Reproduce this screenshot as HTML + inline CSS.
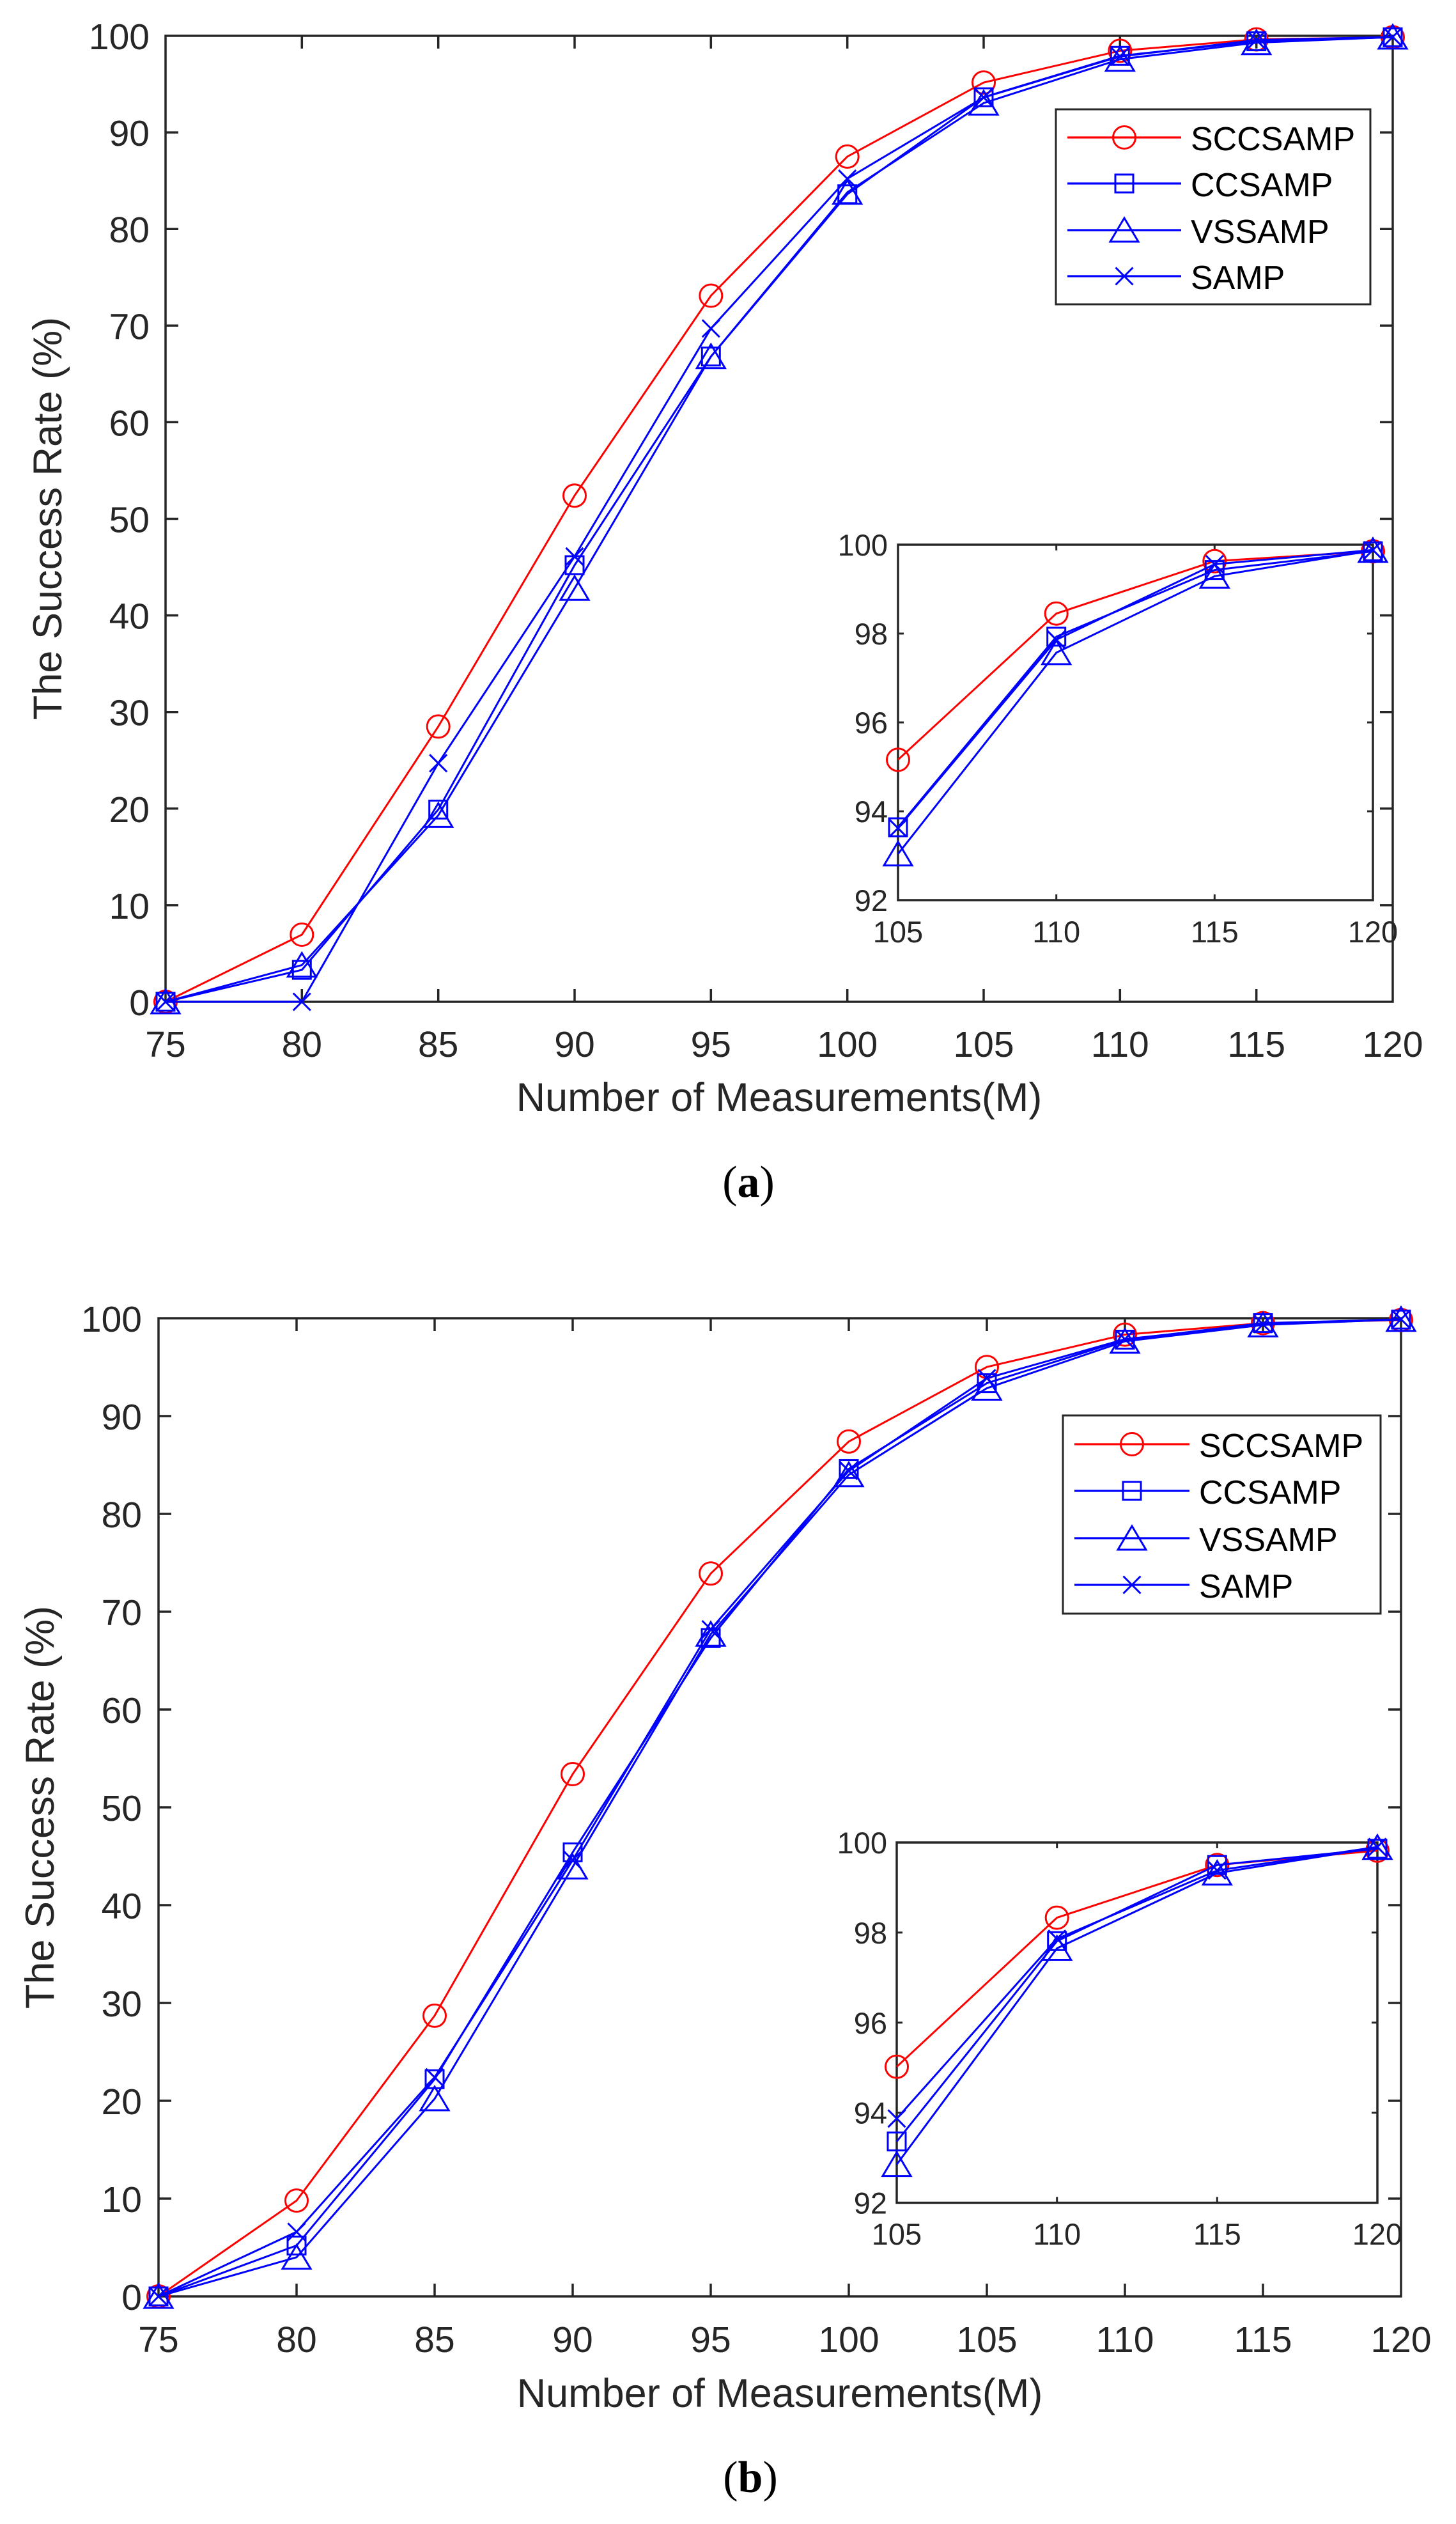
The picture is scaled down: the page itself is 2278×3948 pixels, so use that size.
<!DOCTYPE html>
<html>
<head>
<meta charset="utf-8">
<style>
html,body{margin:0;padding:0;background:#fff;}
svg{display:block;}
text{font-family:"Liberation Sans",Arial,sans-serif;fill:#262626;}
.tk{font-size:57px;}
.in{font-size:47px;}
.lab{font-size:63px;}
.lg{font-size:52px;fill:#000;}
.cap{font-family:"Liberation Serif","Times New Roman",serif;font-size:70px;fill:#000;}
</style>
</head>
<body>
<svg width="2278" height="3948" viewBox="0 0 2278 3948" xmlns="http://www.w3.org/2000/svg">
<defs>
<marker id="mo" markerUnits="userSpaceOnUse" markerWidth="50" markerHeight="50" refX="25" refY="25" overflow="visible"><circle cx="25" cy="25" r="17.5" fill="none" stroke="#f00" stroke-width="3"/></marker>
<marker id="ms" markerUnits="userSpaceOnUse" markerWidth="50" markerHeight="50" refX="25" refY="25" overflow="visible"><rect x="11" y="11" width="28" height="28" fill="none" stroke="#00f" stroke-width="3"/></marker>
<marker id="mt" markerUnits="userSpaceOnUse" markerWidth="50" markerHeight="50" refX="25" refY="25" overflow="visible"><polygon points="25,6 47,43 3,43" fill="none" stroke="#00f" stroke-width="3"/></marker>
<marker id="mx" markerUnits="userSpaceOnUse" markerWidth="50" markerHeight="50" refX="25" refY="25" overflow="visible"><path d="M11.5 11.5 L38.5 38.5 M38.5 11.5 L11.5 38.5" fill="none" stroke="#00f" stroke-width="3"/></marker>
</defs>
<rect x="0" y="0" width="2278" height="3948" fill="#fff"/>

<!-- ================= PLOT (a) ================= -->
<g fill="none" stroke="#262626" stroke-width="3.5">
<rect x="259" y="56" width="1920" height="1511"/>
<path d="M472.3 1567v-20M685.7 1567v-20M899 1567v-20M1112.3 1567v-20M1325.7 1567v-20M1539 1567v-20M1752.3 1567v-20M1965.7 1567v-20
M472.3 56v20M685.7 56v20M899 56v20M1112.3 56v20M1325.7 56v20M1539 56v20M1752.3 56v20M1965.7 56v20
M259 1415.9h20M259 1264.8h20M259 1113.7h20M259 962.6h20M259 811.5h20M259 660.4h20M259 509.3h20M259 358.2h20M259 207.1h20
M2179 1415.9h-20M2179 1264.8h-20M2179 1113.7h-20M2179 962.6h-20M2179 811.5h-20M2179 660.4h-20M2179 509.3h-20M2179 358.2h-20M2179 207.1h-20"/>
</g>
<g class="tk" text-anchor="end">
<text x="234" y="1588" class="tk">0</text>
<text x="234" y="1436.9" class="tk">10</text>
<text x="234" y="1285.8" class="tk">20</text>
<text x="234" y="1134.7" class="tk">30</text>
<text x="234" y="983.6" class="tk">40</text>
<text x="234" y="832.5" class="tk">50</text>
<text x="234" y="681.4" class="tk">60</text>
<text x="234" y="530.3" class="tk">70</text>
<text x="234" y="379.2" class="tk">80</text>
<text x="234" y="228.1" class="tk">90</text>
<text x="234" y="77" class="tk">100</text>
</g>
<g text-anchor="middle">
<text x="259" y="1653" class="tk">75</text>
<text x="472.3" y="1653" class="tk">80</text>
<text x="685.7" y="1653" class="tk">85</text>
<text x="899" y="1653" class="tk">90</text>
<text x="1112.3" y="1653" class="tk">95</text>
<text x="1325.7" y="1653" class="tk">100</text>
<text x="1539" y="1653" class="tk">105</text>
<text x="1752.3" y="1653" class="tk">110</text>
<text x="1965.7" y="1653" class="tk">115</text>
<text x="2179" y="1653" class="tk">120</text>
</g>
<text x="1219" y="1738" text-anchor="middle" class="lab">Number of Measurements(M)</text>
<text transform="translate(96,811) rotate(-90)" text-anchor="middle" class="lab">The Success Rate (%)</text>

<g fill="none" stroke-width="3" stroke-linejoin="round">
<polyline stroke="#f00" marker-start="url(#mo)" marker-mid="url(#mo)" marker-end="url(#mo)" points="259,1567 472.3,1462.0 685.7,1136.4 899,775.2 1112.3,462.5 1325.7,244.9 1539,129.1 1752.3,79.4 1965.7,61.6 2179,58.3"/>
<polyline stroke="#00f" marker-start="url(#ms)" marker-mid="url(#ms)" marker-end="url(#ms)" points="259,1567 472.3,1517.1 685.7,1266.3 899,884.0 1112.3,557.7 1325.7,303.8 1539,152.1 1752.3,87.3 1965.7,64.6 2179,58.3"/>
<polyline stroke="#00f" marker-start="url(#mt)" marker-mid="url(#mt)" marker-end="url(#mt)" points="259,1567 472.3,1509.6 685.7,1275.4 899,920.3 1112.3,557.7 1325.7,300.8 1539,161.2 1752.3,92.7 1965.7,66.7 2179,58.0"/>
<polyline stroke="#00f" marker-start="url(#mx)" marker-mid="url(#mx)" marker-end="url(#mx)" points="259,1567 472.3,1567 685.7,1193.8 899,870.4 1112.3,513.8 1325.7,279.6 1539,152.4 1752.3,88.3 1965.7,62.6 2179,57.8"/>
</g>

<!-- inset (a) -->
<rect x="1405" y="852" width="743" height="556" fill="#fff" stroke="#262626" stroke-width="3.5"/>
<path fill="none" stroke="#262626" stroke-width="3" d="M1652.7 1408v-9M1900.3 1408v-9M1652.7 852v9M1900.3 852v9M1405 1269h9M1405 1130h9M1405 991h9M2148 1269h-9M2148 1130h-9M2148 991h-9"/>
<g text-anchor="end">
<text x="1389" y="1425" class="in">92</text>
<text x="1389" y="1286" class="in">94</text>
<text x="1389" y="1147" class="in">96</text>
<text x="1389" y="1008" class="in">98</text>
<text x="1389" y="869" class="in">100</text>
</g>
<g text-anchor="middle">
<text x="1405" y="1474" class="in">105</text>
<text x="1652.7" y="1474" class="in">110</text>
<text x="1900.3" y="1474" class="in">115</text>
<text x="2148" y="1474" class="in">120</text>
</g>
<g fill="none" stroke-width="3" stroke-linejoin="round">
<polyline stroke="#f00" marker-start="url(#mo)" marker-mid="url(#mo)" marker-end="url(#mo)" points="1405,1188.4 1652.7,959.7 1900.3,877.7 2148,862.4"/>
<polyline stroke="#00f" marker-start="url(#ms)" marker-mid="url(#ms)" marker-end="url(#ms)" points="1405,1294.0 1652.7,995.9 1900.3,891.6 2148,862.4"/>
<polyline stroke="#00f" marker-start="url(#mt)" marker-mid="url(#mt)" marker-end="url(#mt)" points="1405,1335.7 1652.7,1020.9 1900.3,901.3 2148,861.0"/>
<polyline stroke="#00f" marker-start="url(#mx)" marker-mid="url(#mx)" marker-end="url(#mx)" points="1405,1295.4 1652.7,1000.7 1900.3,882.6 2148,860.3"/>
</g>

<!-- legend (a) -->
<rect x="1652" y="171" width="492" height="305" fill="#fff" stroke="#262626" stroke-width="3"/>
<g fill="none" stroke-width="3.3">
<polyline stroke="#f00" marker-mid="url(#mo)" points="1670,215 1759,215 1848,215"/>
<polyline stroke="#00f" marker-mid="url(#ms)" points="1670,287 1759,287 1848,287"/>
<polyline stroke="#00f" marker-mid="url(#mt)" points="1670,360 1759,360 1848,360"/>
<polyline stroke="#00f" marker-mid="url(#mx)" points="1670,432 1759,432 1848,432"/>
</g>
<text x="1863" y="235" class="lg">SCCSAMP</text>
<text x="1863" y="307" class="lg">CCSAMP</text>
<text x="1863" y="380" class="lg">VSSAMP</text>
<text x="1863" y="452" class="lg">SAMP</text>

<text x="1171" y="1872" text-anchor="middle" class="cap">(<tspan font-weight="bold">a</tspan>)</text>

<!-- ================= PLOT (b) ================= -->
<g fill="none" stroke="#262626" stroke-width="3.5">
<rect x="248" y="2062" width="1944" height="1530"/>
<path d="M464 3592v-20M680 3592v-20M896 3592v-20M1112 3592v-20M1328 3592v-20M1544 3592v-20M1760 3592v-20M1976 3592v-20
M464 2062v20M680 2062v20M896 2062v20M1112 2062v20M1328 2062v20M1544 2062v20M1760 2062v20M1976 2062v20
M248 3439h20M248 3286h20M248 3133h20M248 2980h20M248 2827h20M248 2674h20M248 2521h20M248 2368h20M248 2215h20
M2192 3439h-20M2192 3286h-20M2192 3133h-20M2192 2980h-20M2192 2827h-20M2192 2674h-20M2192 2521h-20M2192 2368h-20M2192 2215h-20"/>
</g>
<g text-anchor="end">
<text x="222" y="3613" class="tk">0</text>
<text x="222" y="3460" class="tk">10</text>
<text x="222" y="3307" class="tk">20</text>
<text x="222" y="3154" class="tk">30</text>
<text x="222" y="3001" class="tk">40</text>
<text x="222" y="2848" class="tk">50</text>
<text x="222" y="2695" class="tk">60</text>
<text x="222" y="2542" class="tk">70</text>
<text x="222" y="2389" class="tk">80</text>
<text x="222" y="2236" class="tk">90</text>
<text x="222" y="2083" class="tk">100</text>
</g>
<g text-anchor="middle">
<text x="248" y="3679" class="tk">75</text>
<text x="464" y="3679" class="tk">80</text>
<text x="680" y="3679" class="tk">85</text>
<text x="896" y="3679" class="tk">90</text>
<text x="1112" y="3679" class="tk">95</text>
<text x="1328" y="3679" class="tk">100</text>
<text x="1544" y="3679" class="tk">105</text>
<text x="1760" y="3679" class="tk">110</text>
<text x="1976" y="3679" class="tk">115</text>
<text x="2192" y="3679" class="tk">120</text>
</g>
<text x="1220" y="3765" text-anchor="middle" class="lab">Number of Measurements(M)</text>
<text transform="translate(84,2827) rotate(-90)" text-anchor="middle" class="lab">The Success Rate (%)</text>

<g fill="none" stroke-width="3" stroke-linejoin="round">
<polyline stroke="#f00" marker-start="url(#mo)" marker-mid="url(#mo)" marker-end="url(#mo)" points="248,3592 464,3442.1 680,3152.9 896,2775.0 1112,2461.3 1328,2254.8 1544,2138.2 1760,2087.6 1976,2069.6 2192,2064.8"/>
<polyline stroke="#00f" marker-start="url(#ms)" marker-mid="url(#ms)" marker-end="url(#ms)" points="248,3592 464,3512.4 680,3252.3 896,2897.4 1112,2562.3 1328,2297.6 1544,2163.6 1760,2095.5 1976,2069.6 2192,2064.1"/>
<polyline stroke="#00f" marker-start="url(#mt)" marker-mid="url(#mt)" marker-end="url(#mt)" points="248,3592 464,3530.8 680,3282.9 896,2920.3 1112,2556.2 1328,2306.8 1544,2171.4 1760,2098.0 1976,2072.4 2192,2063.7"/>
<polyline stroke="#00f" marker-start="url(#mx)" marker-mid="url(#mx)" marker-end="url(#mx)" points="248,3592 464,3491.0 680,3249.3 896,2909.6 1112,2548.5 1328,2300.7 1544,2155.8 1760,2094.7 1976,2071.5 2192,2063.5"/>
</g>

<!-- inset (b) -->
<rect x="1403" y="2882" width="752" height="563.5" fill="#fff" stroke="#262626" stroke-width="3.5"/>
<path fill="none" stroke="#262626" stroke-width="3" d="M1653.7 3445.5v-9M1904.3 3445.5v-9M1653.7 2882v9M1904.3 2882v9M1403 3304.6h9M1403 3163.8h9M1403 3022.9h9M2155 3304.6h-9M2155 3163.8h-9M2155 3022.9h-9"/>
<g text-anchor="end">
<text x="1388" y="3462.5" class="in">92</text>
<text x="1388" y="3321.6" class="in">94</text>
<text x="1388" y="3180.8" class="in">96</text>
<text x="1388" y="3039.9" class="in">98</text>
<text x="1388" y="2899" class="in">100</text>
</g>
<g text-anchor="middle">
<text x="1403" y="3511" class="in">105</text>
<text x="1653.7" y="3511" class="in">110</text>
<text x="1904.3" y="3511" class="in">115</text>
<text x="2155" y="3511" class="in">120</text>
</g>
<g fill="none" stroke-width="3" stroke-linejoin="round">
<polyline stroke="#f00" marker-start="url(#mo)" marker-mid="url(#mo)" marker-end="url(#mo)" points="1403,3232.8 1653.7,2999.6 1904.3,2917.2 2155,2894.7"/>
<polyline stroke="#00f" marker-start="url(#ms)" marker-mid="url(#ms)" marker-end="url(#ms)" points="1403,3349.7 1653.7,3036.3 1904.3,2917.2 2155,2891.9"/>
<polyline stroke="#00f" marker-start="url(#mt)" marker-mid="url(#mt)" marker-end="url(#mt)" points="1403,3385.6 1653.7,3047.5 1904.3,2929.9 2155,2889.7"/>
<polyline stroke="#00f" marker-start="url(#mx)" marker-mid="url(#mx)" marker-end="url(#mx)" points="1403,3313.8 1653.7,3032.7 1904.3,2925.7 2155,2889.0"/>
</g>

<!-- legend (b) -->
<rect x="1663" y="2214" width="497" height="310" fill="#fff" stroke="#262626" stroke-width="3"/>
<g fill="none" stroke-width="3.3">
<polyline stroke="#f00" marker-mid="url(#mo)" points="1681,2259 1771,2259 1861,2259"/>
<polyline stroke="#00f" marker-mid="url(#ms)" points="1681,2332 1771,2332 1861,2332"/>
<polyline stroke="#00f" marker-mid="url(#mt)" points="1681,2406 1771,2406 1861,2406"/>
<polyline stroke="#00f" marker-mid="url(#mx)" points="1681,2479 1771,2479 1861,2479"/>
</g>
<text x="1876" y="2279" class="lg">SCCSAMP</text>
<text x="1876" y="2352" class="lg">CCSAMP</text>
<text x="1876" y="2426" class="lg">VSSAMP</text>
<text x="1876" y="2499" class="lg">SAMP</text>

<text x="1174" y="3898" text-anchor="middle" class="cap">(<tspan font-weight="bold">b</tspan>)</text>
</svg>
</body>
</html>
